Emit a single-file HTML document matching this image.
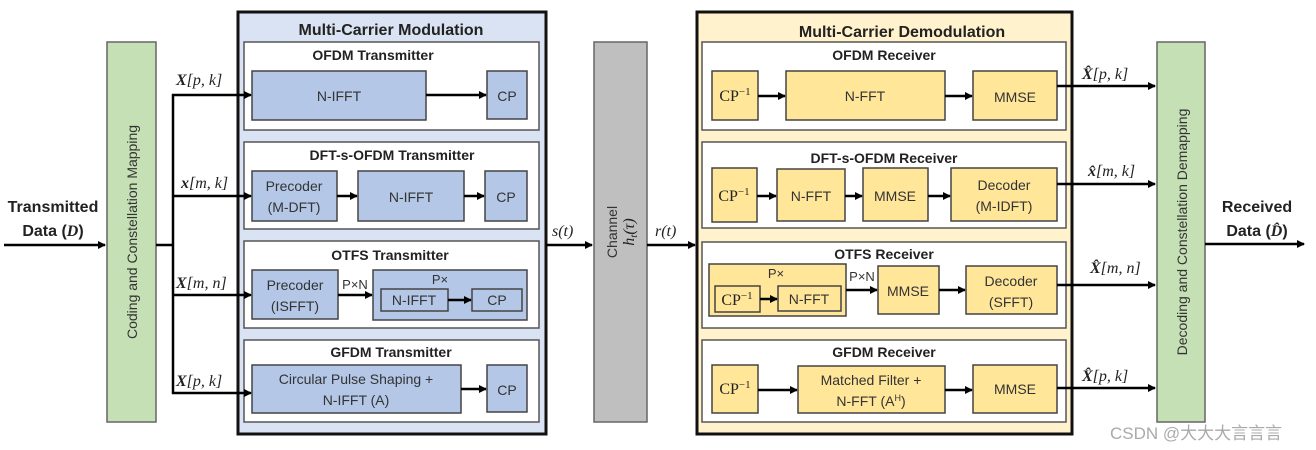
<!DOCTYPE html>
<html><head><meta charset="utf-8"><style>
html,body{margin:0;padding:0;background:#fff;}
svg{display:block;}
text{font-family:"Liberation Sans",sans-serif;fill:#222;}
.t{font-size:14px;font-weight:bold;text-anchor:middle;}
.h{font-size:16px;font-weight:bold;text-anchor:middle;}
.b{font-size:14px;text-anchor:middle;fill:#333;}
.m{font-family:"Liberation Serif",serif;font-style:italic;font-size:16px;}
.bl{fill:#b4c7e7;stroke:#444;stroke-width:1.5;}
.yl{fill:#ffe699;stroke:#444;stroke-width:1.5;}
.pn{fill:#fff;stroke:#555;stroke-width:1.5;}
.ln{stroke:#000;stroke-width:2.5;fill:none;}
</style></head><body>
<svg width="1316" height="450" viewBox="0 0 1316 450" xmlns="http://www.w3.org/2000/svg">
<defs>
<marker id="a" markerWidth="8" markerHeight="8" refX="7" refY="4" orient="auto" markerUnits="userSpaceOnUse" viewBox="0 0 8 8"><path d="M0,0 L8,4 L0,8 z" fill="#000"/></marker>
</defs>

<!-- Input -->
<text class="h" x="53" y="212">Transmitted</text>
<text class="h" x="53" y="236">Data (<tspan font-family="Liberation Serif" font-style="italic">D</tspan>)</text>
<line class="ln" x1="4" y1="245" x2="105" y2="245" marker-end="url(#a)"/>

<rect x="107" y="42" width="49" height="380" fill="#c5e0b4" stroke="#666" stroke-width="1.5"/>
<text class="b" transform="translate(137,232) rotate(-90)" style="font-size:14px">Coding and Constellation Mapping</text>

<text class="m" x="176" y="85"><tspan font-weight="bold">X</tspan>[p, k]</text>
<text class="m" x="181" y="188"><tspan font-weight="bold">x</tspan>[m, k]</text>
<text class="m" x="176" y="288"><tspan font-weight="bold">X</tspan>[m, n]</text>
<text class="m" x="176" y="386"><tspan font-weight="bold">X</tspan>[p, k]</text>

<!-- Modulation -->
<rect x="238" y="12" width="308" height="422" fill="#dae3f3" stroke="#111" stroke-width="3"/>
<text class="h" x="391" y="35">Multi-Carrier Modulation</text>

<rect class="pn" x="244" y="42" width="295" height="88"/>
<text class="t" x="373" y="60">OFDM Transmitter</text>
<rect class="bl" x="252" y="71" width="174" height="49"/>
<text class="b" x="339" y="101">N-IFFT</text>
<line class="ln" x1="426" y1="95" x2="486" y2="95" marker-end="url(#a)"/>
<rect class="bl" x="487" y="71" width="40" height="48"/>
<text class="b" x="507" y="101">CP</text>

<rect class="pn" x="244" y="142" width="295" height="87"/>
<text class="t" x="392" y="160">DFT-s-OFDM Transmitter</text>
<rect class="bl" x="252" y="171" width="85" height="50"/>
<text class="b" x="294" y="191">Precoder</text>
<text class="b" x="294" y="212">(M-DFT)</text>
<line class="ln" x1="337" y1="196" x2="357" y2="196" marker-end="url(#a)"/>
<rect class="bl" x="358" y="171" width="106" height="50"/>
<text class="b" x="411" y="202">N-IFFT</text>
<line class="ln" x1="464" y1="196" x2="484" y2="196" marker-end="url(#a)"/>
<rect class="bl" x="485" y="171" width="42" height="50"/>
<text class="b" x="506" y="202">CP</text>

<rect class="pn" x="244" y="241" width="295" height="87"/>
<text class="t" x="390" y="260">OTFS Transmitter</text>
<rect class="bl" x="252" y="270" width="86" height="49"/>
<text class="b" x="295" y="290">Precoder</text>
<text class="b" x="295" y="311">(ISFFT)</text>
<text x="355" y="289" style="font-size:13px;text-anchor:middle;fill:#333">P×N</text>
<line class="ln" x1="338" y1="295" x2="372" y2="295" marker-end="url(#a)"/>
<rect class="bl" x="373" y="270" width="154" height="50"/>
<text x="440" y="284" style="font-size:13px;text-anchor:middle;fill:#333">P×</text>
<rect class="bl" x="381" y="289" width="67" height="22"/>
<text class="b" x="414" y="305">N-IFFT</text>
<line class="ln" x1="448" y1="300" x2="471" y2="300" marker-end="url(#a)"/>
<rect class="bl" x="472" y="289" width="50" height="22"/>
<text class="b" x="497" y="305">CP</text>

<rect class="pn" x="244" y="340" width="295" height="82"/>
<text class="t" x="391" y="357">GFDM Transmitter</text>
<rect class="bl" x="252" y="365" width="209" height="48"/>
<text class="b" x="356" y="384">Circular Pulse Shaping +</text>
<text class="b" x="356" y="405">N-IFFT (A)</text>
<line class="ln" x1="461" y1="389" x2="486" y2="389" marker-end="url(#a)"/>
<rect class="bl" x="487" y="365" width="40" height="47"/>
<text class="b" x="507" y="395">CP</text>

<!-- bus (drawn on top) -->
<polyline class="ln" points="156,245 173,245"/>
<line class="ln" x1="173" y1="94" x2="173" y2="394"/>
<line class="ln" x1="172" y1="95" x2="251" y2="95" marker-end="url(#a)"/>
<line class="ln" x1="172" y1="196" x2="251" y2="196" marker-end="url(#a)"/>
<line class="ln" x1="172" y1="295" x2="251" y2="295" marker-end="url(#a)"/>
<line class="ln" x1="172" y1="393" x2="251" y2="393" marker-end="url(#a)"/>

<!-- channel -->
<line class="ln" x1="546" y1="245" x2="592" y2="245" marker-end="url(#a)"/>
<text class="m" x="552" y="236">s(t)</text>
<rect x="594" y="42" width="53" height="380" fill="#bfbfbf" stroke="#666" stroke-width="1.5"/>
<text class="b" transform="translate(617,232) rotate(-90)" style="font-size:14px">Channel</text>
<text class="m" transform="translate(634,232) rotate(-90)" style="text-anchor:middle">h<tspan font-size="11" dy="3">t</tspan><tspan dy="-3">(τ)</tspan></text>
<line class="ln" x1="647" y1="245" x2="695" y2="245" marker-end="url(#a)"/>
<text class="m" x="655" y="236">r(t)</text>

<!-- Demodulation -->
<rect x="697" y="12" width="375" height="422" fill="#fff2cc" stroke="#111" stroke-width="3"/>
<text class="h" x="902" y="37">Multi-Carrier Demodulation</text>

<rect class="pn" x="702" y="42" width="364" height="88"/>
<text class="t" x="884" y="60">OFDM Receiver</text>
<rect class="yl" x="712" y="71" width="46" height="49"/>
<text class="m" x="735" y="101" style="font-style:normal;text-anchor:middle">CP<tspan font-size="11" dy="-6">−1</tspan></text>
<line class="ln" x1="758" y1="96" x2="785" y2="96" marker-end="url(#a)"/>
<rect class="yl" x="786" y="71" width="159" height="49"/>
<text class="b" x="865" y="101">N-FFT</text>
<line class="ln" x1="945" y1="96" x2="972" y2="96" marker-end="url(#a)"/>
<rect class="yl" x="973" y="71" width="84" height="49"/>
<text class="b" x="1015" y="102">MMSE</text>

<rect class="pn" x="702" y="142" width="364" height="86"/>
<text class="t" x="884" y="163">DFT-s-OFDM Receiver</text>
<rect class="yl" x="712" y="168" width="45" height="54"/>
<text class="m" x="734" y="201" style="font-style:normal;text-anchor:middle">CP<tspan font-size="11" dy="-6">−1</tspan></text>
<line class="ln" x1="757" y1="196" x2="776" y2="196" marker-end="url(#a)"/>
<rect class="yl" x="777" y="169" width="68" height="52"/>
<text class="b" x="811" y="201">N-FFT</text>
<line class="ln" x1="845" y1="196" x2="862" y2="196" marker-end="url(#a)"/>
<rect class="yl" x="863" y="168" width="65" height="53"/>
<text class="b" x="895" y="201">MMSE</text>
<line class="ln" x1="928" y1="196" x2="950" y2="196" marker-end="url(#a)"/>
<rect class="yl" x="951" y="168" width="106" height="53"/>
<text class="b" x="1004" y="190">Decoder</text>
<text class="b" x="1004" y="211">(M-IDFT)</text>

<rect class="pn" x="702" y="242" width="364" height="86"/>
<text class="t" x="884" y="259">OTFS Receiver</text>
<rect class="yl" x="709" y="264" width="137" height="52"/>
<text x="776" y="278" style="font-size:13px;text-anchor:middle;fill:#333">P×</text>
<rect class="yl" x="715" y="286" width="45" height="26"/>
<text class="m" x="737" y="305" style="font-style:normal;text-anchor:middle">CP<tspan font-size="11" dy="-6">−1</tspan></text>
<line class="ln" x1="760" y1="299" x2="777" y2="299" marker-end="url(#a)"/>
<rect class="yl" x="778" y="286" width="63" height="25"/>
<text class="b" x="809" y="304">N-FFT</text>
<text x="862" y="281" style="font-size:13px;text-anchor:middle;fill:#333">P×N</text>
<line class="ln" x1="846" y1="290" x2="877" y2="290" marker-end="url(#a)"/>
<rect class="yl" x="878" y="266" width="61" height="48"/>
<text class="b" x="908" y="296">MMSE</text>
<line class="ln" x1="939" y1="290" x2="965" y2="290" marker-end="url(#a)"/>
<rect class="yl" x="966" y="266" width="91" height="48"/>
<text class="b" x="1011" y="286">Decoder</text>
<text class="b" x="1011" y="307">(SFFT)</text>

<rect class="pn" x="702" y="340" width="364" height="82"/>
<text class="t" x="884" y="357">GFDM Receiver</text>
<rect class="yl" x="712" y="365" width="46" height="48"/>
<text class="m" x="735" y="394" style="font-style:normal;text-anchor:middle">CP<tspan font-size="11" dy="-6">−1</tspan></text>
<line class="ln" x1="758" y1="390" x2="797" y2="390" marker-end="url(#a)"/>
<rect class="yl" x="798" y="366" width="147" height="47"/>
<text class="b" x="871" y="385">Matched Filter +</text>
<text class="b" x="871" y="406">N-FFT (A<tspan font-size="9" dy="-5">H</tspan><tspan dy="5">)</tspan></text>
<line class="ln" x1="945" y1="390" x2="972" y2="390" marker-end="url(#a)"/>
<rect class="yl" x="973" y="365" width="84" height="48"/>
<text class="b" x="1015" y="394">MMSE</text>

<!-- outputs -->
<line class="ln" x1="1057" y1="86" x2="1155" y2="86" marker-end="url(#a)"/>
<line class="ln" x1="1057" y1="184" x2="1155" y2="184" marker-end="url(#a)"/>
<line class="ln" x1="1057" y1="285" x2="1155" y2="285" marker-end="url(#a)"/>
<line class="ln" x1="1057" y1="388" x2="1155" y2="388" marker-end="url(#a)"/>
<text class="m" x="1082" y="79"><tspan font-weight="bold">X̂</tspan>[p, k]</text>
<text class="m" x="1088" y="176"><tspan font-weight="bold">x̂</tspan>[m, k]</text>
<text class="m" x="1090" y="273"><tspan font-weight="bold">X̂</tspan>[m, n]</text>
<text class="m" x="1082" y="381"><tspan font-weight="bold">X̂</tspan>[p, k]</text>

<rect x="1157" y="42" width="48" height="380" fill="#c5e0b4" stroke="#666" stroke-width="1.5"/>
<text class="b" transform="translate(1187,232) rotate(-90)" style="font-size:14px">Decoding and Constellation Demapping</text>

<text class="h" x="1257" y="212">Received</text>
<text class="h" x="1257" y="236">Data (<tspan font-family="Liberation Serif" font-style="italic">D̂</tspan>)</text>
<line class="ln" x1="1205" y1="244" x2="1304" y2="244" marker-end="url(#a)"/>

<text x="1110" y="439" style="font-family:'Liberation Sans','Noto Sans CJK SC',sans-serif;font-size:17px;fill:#aaa">CSDN @大大大言言言</text>
</svg>
</body></html>
